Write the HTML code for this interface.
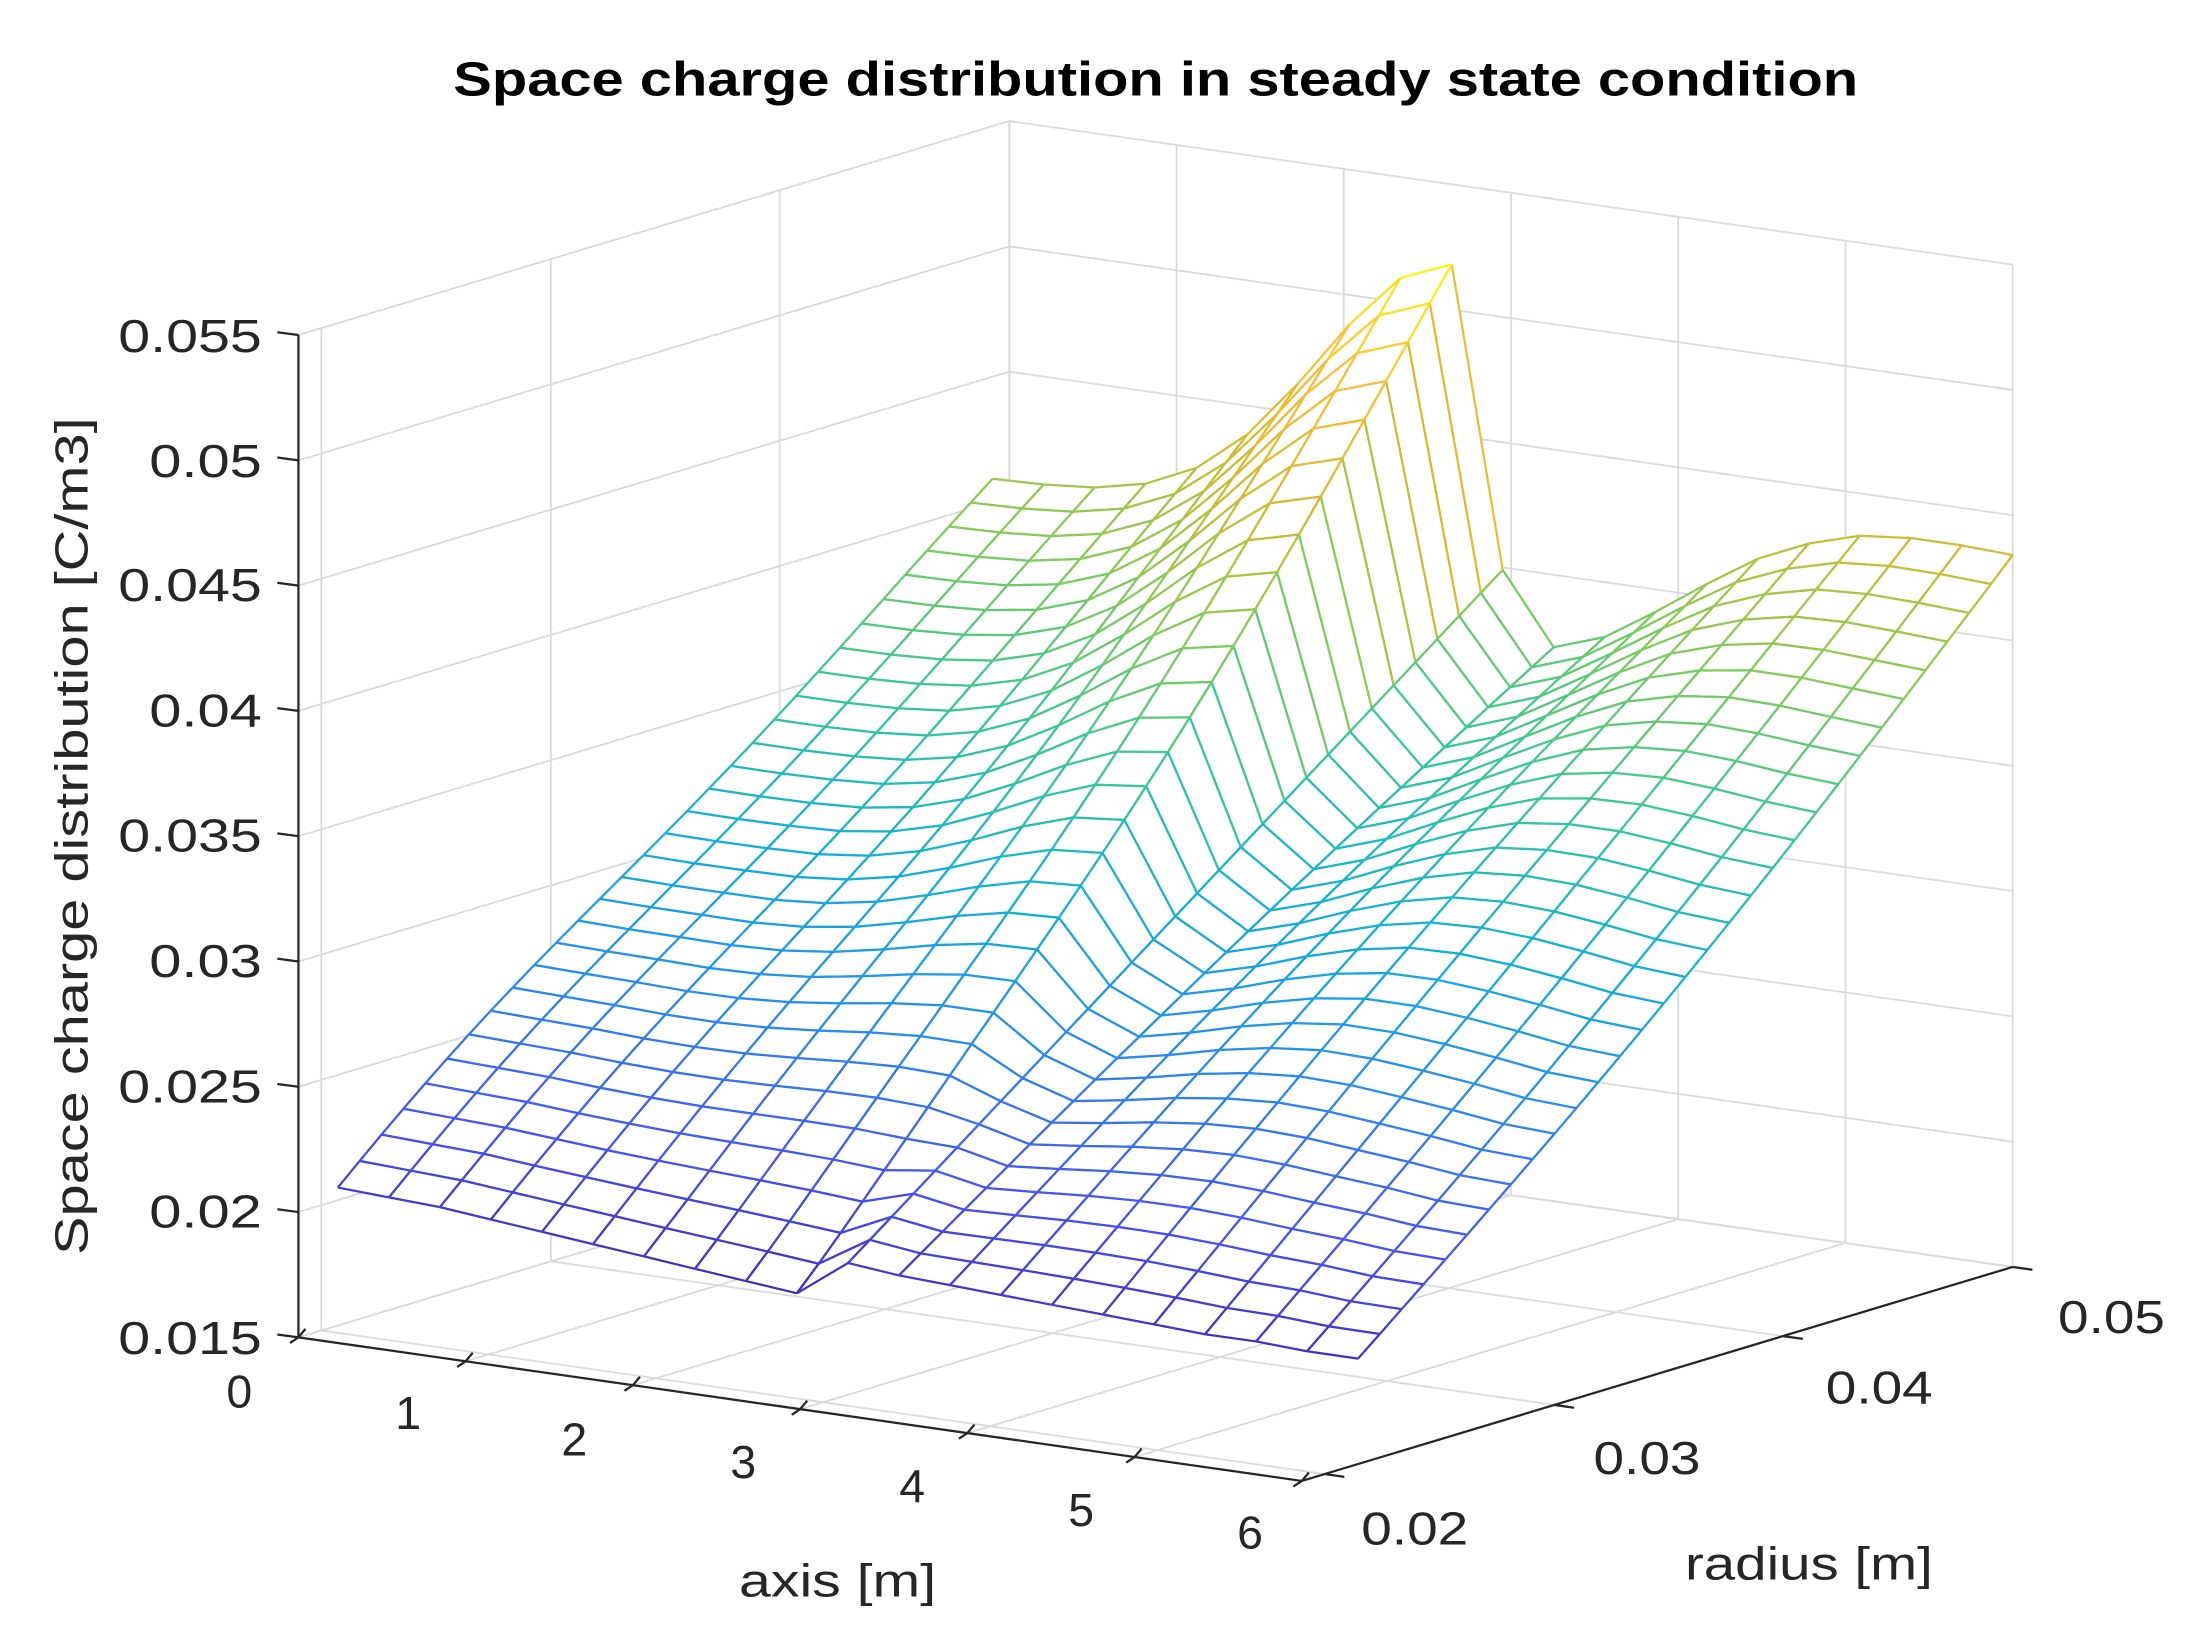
<!DOCTYPE html>
<html><head><meta charset="utf-8"><style>
html,body{margin:0;padding:0;background:#fff;}
svg{display:block;}
text{font-family:"Liberation Sans",Arial,sans-serif;fill:#262626;}
</style></head><body>
<svg id="s" xmlns="http://www.w3.org/2000/svg" width="2196" height="1631" viewBox="0 0 1560 1158.6" preserveAspectRatio="none">
<rect x="0" y="0" width="1560" height="1158.6" fill="#fff"/>
<g id="grid" stroke="#dadada" stroke-width="1.3" fill="none"></g>
<g id="surf" stroke-linejoin="round"></g>
<g id="axes" stroke="#262626" stroke-width="1.6" fill="none"></g>
<text x="821" y="68" font-size="34" font-weight="bold" text-anchor="middle" textLength="998" lengthAdjust="spacingAndGlyphs" style="fill:#000">Space charge distribution in steady state condition</text>
<g font-size="33">
<text x="186" y="250" text-anchor="end" textLength="102" lengthAdjust="spacingAndGlyphs">0.055</text>
<text x="186" y="339" text-anchor="end" textLength="80" lengthAdjust="spacingAndGlyphs">0.05</text>
<text x="186" y="427" text-anchor="end" textLength="102" lengthAdjust="spacingAndGlyphs">0.045</text>
<text x="186" y="516" text-anchor="end" textLength="80" lengthAdjust="spacingAndGlyphs">0.04</text>
<text x="186" y="605" text-anchor="end" textLength="102" lengthAdjust="spacingAndGlyphs">0.035</text>
<text x="186" y="694" text-anchor="end" textLength="80" lengthAdjust="spacingAndGlyphs">0.03</text>
<text x="186" y="783" text-anchor="end" textLength="102" lengthAdjust="spacingAndGlyphs">0.025</text>
<text x="186" y="872" text-anchor="end" textLength="80" lengthAdjust="spacingAndGlyphs">0.02</text>
<text x="186" y="962" text-anchor="end" textLength="102" lengthAdjust="spacingAndGlyphs">0.015</text>
<text x="170" y="1000" text-anchor="middle">0</text>
<text x="290" y="1015" text-anchor="middle">1</text>
<text x="408" y="1034" text-anchor="middle">2</text>
<text x="528" y="1050" text-anchor="middle">3</text>
<text x="648" y="1067" text-anchor="middle">4</text>
<text x="768" y="1084" text-anchor="middle">5</text>
<text x="888" y="1100" text-anchor="middle">6</text>
<text x="1005" y="1097" text-anchor="middle" textLength="76" lengthAdjust="spacingAndGlyphs">0.02</text>
<text x="1170" y="1047" text-anchor="middle" textLength="76" lengthAdjust="spacingAndGlyphs">0.03</text>
<text x="1335" y="997" text-anchor="middle" textLength="76" lengthAdjust="spacingAndGlyphs">0.04</text>
<text x="1500" y="947" text-anchor="middle" textLength="76" lengthAdjust="spacingAndGlyphs">0.05</text>
<text x="595" y="1134" text-anchor="middle" textLength="140" lengthAdjust="spacingAndGlyphs">axis [m]</text>
<text x="1285" y="1122" text-anchor="middle" textLength="176" lengthAdjust="spacingAndGlyphs">radius [m]</text>
<text transform="translate(62,594) rotate(-90)" text-anchor="middle" textLength="595" lengthAdjust="spacingAndGlyphs">Space charge distribution [C/m3]</text>
</g>
</svg>
<script>
(function(){
var NS="http://www.w3.org/2000/svg";
var X0=212,Y0=950,Ax=118.8,Ay=17,Rx=505,Ry=-152,Zs=17800;
function P(a,f,z){return [X0+a*Ax+f*Rx, Y0+a*Ay+f*Ry-(z-0.015)*Zs];}
function line(g,p,q,c,w){var l=document.createElementNS(NS,"line");l.setAttribute("x1",p[0].toFixed(1));l.setAttribute("y1",p[1].toFixed(1));l.setAttribute("x2",q[0].toFixed(1));l.setAttribute("y2",q[1].toFixed(1));if(c)l.setAttribute("stroke",c);if(w)l.setAttribute("stroke-width",w);g.appendChild(l);}
var grid=document.getElementById("grid"),axes=document.getElementById("axes"),surf=document.getElementById("surf");
var zt=[0.015,0.02,0.025,0.03,0.035,0.04,0.045,0.05,0.055];
var rf=[0.032,0.355,0.677,1];
for(var a=0;a<=6;a++)line(grid,P(a,0,0.015),P(a,1,0.015));
rf.forEach(function(f){line(grid,P(0,f,0.015),P(6,f,0.015));});
rf.forEach(function(f){line(grid,P(0,f,0.015),P(0,f,0.055));});
zt.forEach(function(z){line(grid,P(0,0,z),P(0,1,z));});
for(var a=0;a<=6;a++)line(grid,P(a,1,0.015),P(a,1,0.055));
zt.forEach(function(z){line(grid,P(0,1,z),P(6,1,z));});
line(axes,P(0,0,0.015),P(0,0,0.055));
line(axes,P(0,0,0.015),P(6,0,0.015));
line(axes,P(6,0,0.015),P(6,1,0.015));
zt.forEach(function(z){var p=P(0,0,z);line(axes,p,[p[0]-15,p[1]-2]);});
for(var a=0;a<=6;a++){var p=P(a,0,0.015);line(axes,p,[p[0]+5,p[1]-6]);line(axes,p,[p[0]-6,p[1]+4]);}
rf.forEach(function(f){var p=P(6,f,0.015);line(axes,p,[p[0]+14,p[1]+2]);});
var NI=20,NJ=30;
function interp(arr,s){var x=s*(arr.length-1),k=Math.min(Math.floor(x),arr.length-2),u=x-k;return arr[k]*(1-u)+arr[k+1]*u;}
var FL=[0.0208,0.0207,0.0206,0.0204,0.0202,0.0200,0.0198,0.0196,0.0194,0.0192];
var FR=[0.0207,0.0205,0.0204,0.0203,0.0202,0.0201,0.0200,0.0199,0.0199,0.0198,0.0198];
var BR=[0.0405,0.0377,0.0384,0.0397,0.0411,0.0424,0.0433,0.0439,0.0441,0.0441,0.0440];
function Z(i,j){var t=j/NJ;
 if(i<=9){var base=FL[i]*(1-t)+0.0412*t+0.0006*Math.sin(t*Math.PI*2)*(1-t);
  var pk=0.0112*Math.pow(t,1.5)*Math.exp(-Math.pow((9-i)/3.6,2));
  return base+pk;}
 var s=(i-10)/10;var w=t;
 return interp(FR,s)*(1-w)+interp(BR,s)*w+0.0008*Math.sin(t*Math.PI)*Math.sin(s*Math.PI*1.5);}
var cm=[[62,38,168],[72,82,244],[40,140,240],[18,177,214],[55,200,151],[129,204,89],[209,187,48],[252,190,60],[249,251,14]];
function col(z){var s=(z-0.0185)/(0.0525-0.0185);s=Math.max(0,Math.min(1,s));var x=s*(cm.length-1),k=Math.min(Math.floor(x),cm.length-2),u=x-k;var c=[0,1,2].map(function(n){return Math.round(cm[k][n]*(1-u)+cm[k+1][n]*u);});return "rgb("+c.join(",")+")";}
var pts=[],zs=[];
for(var i=0;i<=NI;i++){pts[i]=[];zs[i]=[];for(var j=0;j<=NJ;j++){var a=0.1+0.305*i,f=0.032+0.921*j/NJ,z=Z(i,j);zs[i][j]=z;pts[i][j]=P(a,f,z);}}
var quads=[];
for(var i=0;i<NI;i++)for(var j=0;j<NJ;j++){var a=0.1+0.305*(i+0.5),f=0.032+0.921*(j+0.5)/NJ;quads.push([i,j,Y0+a*Ay+f*Ry]);}
quads.sort(function(p,q){return p[2]-q[2];});
quads.forEach(function(q){var i=q[0],j=q[1];
 var c=[pts[i][j],pts[i+1][j],pts[i+1][j+1],pts[i][j+1]];
 var pg=document.createElementNS(NS,"polygon");
 pg.setAttribute("points",c.map(function(p){return p[0].toFixed(1)+","+p[1].toFixed(1);}).join(" "));
 pg.setAttribute("fill","#fff");surf.appendChild(pg);
 var e=[[i,j,i+1,j],[i+1,j,i+1,j+1],[i+1,j+1,i,j+1],[i,j+1,i,j]];
 e.forEach(function(d){line(surf,pts[d[0]][d[1]],pts[d[2]][d[3]],col((zs[d[0]][d[1]]+zs[d[2]][d[3]])/2),1.6);});
});
})();
</script>
</body></html>
